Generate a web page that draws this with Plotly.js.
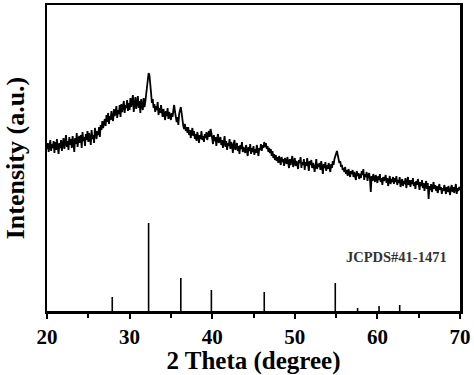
<!DOCTYPE html>
<html>
<head>
<meta charset="utf-8">
<script src="https://cdn.plot.ly/plotly-3.0.1.min.js"></script>
<style>html,body{margin:0;padding:0;background:#fff;}#chart{width:474px;height:375px;}</style>
</head>
<body>
<div id="chart"></div>
<script>
// XRD pattern, 2-theta from 20 to 70 in steps of 0.1 degree (one row = one degree)
const thetaStart = 20;
const thetaStep = 0.1;
const intensity = [
  162, 168, 159, 166, 171, 160, 167, 163, 170, 158,
  169, 161, 172, 164, 157, 168, 163, 171, 160, 167,
  173, 162, 169, 176, 164, 170, 161, 174, 166, 172,
  163, 175, 168, 159, 173, 167, 178, 164, 171, 175,
  168, 176, 163, 179, 170, 174, 165, 177, 171, 180,
  169, 178, 173, 166, 181, 172, 176, 168, 183, 175,
  172, 180, 176, 184, 174, 186, 181, 190, 183, 188,
  192, 185, 196, 189, 198, 187, 195, 191, 200, 193,
  190, 202, 195, 199, 205, 193, 201, 197, 206, 194,
  207, 199, 204, 210, 198, 206, 203, 211, 200, 208,
  201, 213, 204, 210, 216, 199, 209, 214, 202, 211,
  215, 203, 210, 198, 212, 206, 201, 213, 204, 209,
  216, 226, 234, 238, 236, 229, 218, 208, 212, 203,
  207, 199, 205, 201, 209, 196, 203, 198, 206, 200,
  194, 202, 197, 191, 200, 195, 203, 192, 199, 196,
  191, 198, 194, 201, 206, 199, 195, 189, 194, 186,
  197, 200, 204, 198, 190, 185, 182, 187, 180, 184,
  178, 184, 176, 181, 173, 179, 183, 175, 180, 172,
  177, 170, 179, 174, 168, 176, 172, 180, 171, 175,
  169, 177, 173, 179, 171, 176, 180, 174, 182, 178,
  173, 167, 176, 170, 174, 165, 172, 177, 168, 171,
  174, 166, 171, 163, 169, 175, 164, 170, 161, 168,
  165, 172, 162, 169, 166, 158, 167, 171, 161, 166,
  168, 160, 165, 157, 166, 162, 169, 159, 164, 161,
  158, 166, 161, 155, 164, 160, 167, 157, 163, 159,
  165, 156, 162, 158, 166, 160, 155, 163, 161, 167,
  160, 166, 163, 169, 164, 168, 162, 165, 159, 163,
  158, 162, 155, 160, 153, 157, 151, 156, 150, 154,
  148, 155, 151, 146, 154, 149, 152, 145, 153, 150,
  147, 154, 149, 143, 152, 146, 151, 155, 144, 150,
  153, 145, 150, 147, 142, 151, 148, 154, 143, 149,
  146, 152, 141, 149, 145, 153, 147, 140, 150, 146,
  151, 143, 148, 145, 139, 149, 152, 142, 147, 144,
  148, 141, 150, 144, 137, 147, 143, 149, 140, 146,
  142, 148, 144, 139, 147, 143, 150, 146, 152, 155,
  158, 160, 156, 152, 148, 150, 144, 146, 141, 143,
  139, 144, 137, 141, 135, 142, 138, 134, 140, 137,
  141, 134, 139, 136, 131, 140, 135, 138, 132, 137,
  133, 140, 136, 142, 131, 137, 134, 139, 130, 136,
  138, 132, 119, 135, 130, 137, 133, 129, 136, 131,
  128, 135, 131, 137, 129, 133, 126, 134, 130, 132,
  136, 128, 133, 125, 131, 135, 127, 132, 129, 134,
  127, 133, 129, 135, 126, 131, 128, 134, 124, 130,
  132, 125, 130, 127, 133, 123, 129, 134, 126, 131,
  124, 131, 127, 133, 125, 129, 122, 130, 126, 132,
  127, 121, 129, 125, 131, 123, 128, 120, 126, 130,
  122, 128, 112, 125, 121, 127, 119, 124, 129, 122,
  126, 120, 125, 118, 123, 127, 121, 124, 117, 123,
  120, 126, 122, 117, 124, 119, 125, 121, 116, 123,
  126, 119, 124, 118, 122, 127, 117, 123, 120, 124,
  121
];

// Reference pattern JCPDS#41-1471
const refPositions = [27.9, 32.3, 36.2, 39.9, 46.3, 54.9, 57.6, 60.2, 62.7];
const refHeights   = [14, 88, 33, 21, 19, 28, 3, 5, 6];
const refLabel = "JCPDS#41-1471";

const xTicks = [20, 30, 40, 50, 60, 70];
const xTickLabels = ["20", "30", "40", "50", "60", "70"];

const stickX = [], stickY = [];
refPositions.forEach((p, i) => {
  stickX.push(p, p, null);
  stickY.push(0, refHeights[i], null);
});

const serif = "Liberation Serif, Times New Roman, serif";

const traces = [
  {
    type: "scatter", mode: "lines",
    x0: thetaStart, dx: thetaStep, y: intensity,
    line: {color: "#000", width: 1.8},
    hoverinfo: "skip"
  },
  {
    type: "scatter", mode: "lines",
    x: stickX, y: stickY,
    line: {color: "#000", width: 1.6},
    hoverinfo: "skip"
  }
];

const layout = {
  width: 474, height: 375,
  margin: {l: 47, r: 14, t: 5, b: 64},
  paper_bgcolor: "#fff", plot_bgcolor: "#fff",
  showlegend: false,
  font: {family: serif, color: "#000"},
  xaxis: {
    range: [20, 70],
    tickvals: xTicks, ticktext: xTickLabels,
    ticks: "outside", ticklen: 5, tickwidth: 2, tickcolor: "#000",
    minor: {dtick: 5, tick0: 20, ticks: "outside", ticklen: 4, tickwidth: 2, tickcolor: "#000"},
    showline: true, mirror: true, linewidth: 2.5, linecolor: "#000",
    showgrid: false, zeroline: false,
    tickfont: {family: serif, size: 21, color: "#000", weight: "bold"},
    title: {text: "<b>2 Theta (degree)</b>", font: {family: serif, size: 25, color: "#000"}, standoff: 2}
  },
  yaxis: {
    range: [0, 306],
    showticklabels: false, ticks: "",
    showline: true, mirror: true, linewidth: 2.5, linecolor: "#000",
    showgrid: false, zeroline: false,
    title: {text: "<b>Intensity (a.u.)</b>", font: {family: serif, size: 26, color: "#000"}, standoff: 13}
  },
  annotations: [{
    x: 62.3, y: 54, xref: "x", yref: "y",
    text: "<b>" + refLabel + "</b>", showarrow: false,
    font: {family: serif, size: 14.5, color: "#333"}
  }]
};

Plotly.newPlot("chart", traces, layout, {staticPlot: true, displayModeBar: false});
</script>
</body>
</html>
